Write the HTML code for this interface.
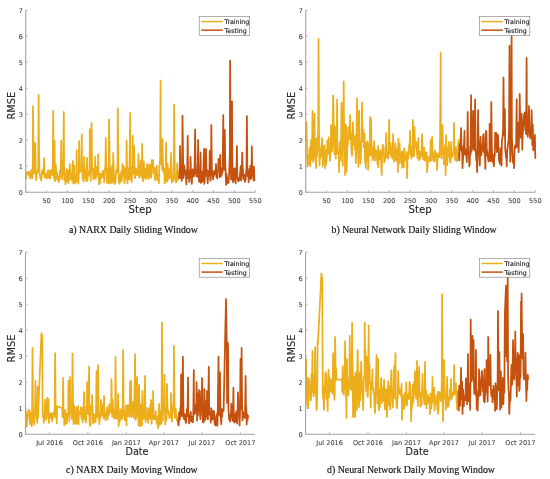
<!DOCTYPE html>
<html><head><meta charset="utf-8"><title>RMSE charts</title>
<style>
html,body{margin:0;padding:0;background:#fff}
svg{display:block;filter:blur(0.35px)}
.t{font-family:"DejaVu Sans","Liberation Sans",sans-serif;font-size:6.55px;fill:#474747;stroke:#474747;stroke-width:0.1px}
.l{font-family:"DejaVu Sans","Liberation Sans",sans-serif;font-size:9.85px;fill:#262626;stroke:#262626;stroke-width:0.12px}
.g{font-family:"DejaVu Sans","Liberation Sans",sans-serif;font-size:6.3px;fill:#222;stroke:#222;stroke-width:0.15px}
.c{font-family:"Liberation Serif","DejaVu Serif",serif;font-size:9.83px;fill:#111;stroke:#111;stroke-width:0.15px}
</style></head><body>
<svg width="550" height="479" viewBox="0 0 550 479">
<rect width="550" height="479" fill="#fff"/>
<polyline points="26.1,178.4 26.5,176.2 27.0,171.8 27.4,173.3 27.8,172.1 28.2,173.1 28.6,174.7 29.0,172.3 29.5,171.6 29.9,176.6 30.3,178.6 30.7,175.4 31.1,173.9 31.5,169.7 32.0,171.3 32.4,178.1 32.8,165.9 33.0,106.0 33.6,163.9 34.0,173.7 34.5,170.3 34.9,172.7 35.2,142.9 35.7,167.6 36.1,180.1 36.6,176.2 37.0,172.4 37.4,173.5 37.8,170.7 38.2,171.3 38.6,94.8 39.1,158.6 39.5,170.5 39.9,175.3 40.3,178.1 40.7,176.9 41.1,180.5 41.6,178.0 42.0,171.7 42.4,169.8 42.8,172.5 43.2,170.0 43.6,174.3 44.1,158.0 44.5,177.2 44.9,175.8 45.3,176.7 45.7,177.2 46.2,173.6 46.6,178.6 47.0,173.5 47.4,177.9 47.8,172.4 48.2,170.1 48.7,173.1 49.1,178.0 49.5,172.0 49.9,170.9 50.3,178.6 50.7,172.9 51.2,169.8 51.6,173.7 52.0,173.8 52.4,175.1 52.8,158.6 53.2,110.9 53.7,168.2 54.1,178.8 54.6,141.1 54.9,181.1 55.3,180.7 55.8,164.7 56.2,170.1 56.6,178.5 57.0,172.7 57.4,179.1 57.8,176.2 58.3,180.4 58.7,182.0 59.1,176.1 59.5,179.7 59.9,170.3 60.3,177.6 60.8,168.8 61.2,140.3 61.6,167.4 62.0,173.8 62.4,179.5 62.8,161.5 63.3,162.6 63.8,112.0 64.1,168.1 64.5,179.5 64.9,173.0 65.4,184.2 65.8,181.1 66.2,177.9 66.6,169.1 67.0,175.1 67.4,181.9 67.9,170.7 68.3,183.0 68.7,179.4 69.1,180.4 69.5,171.9 69.8,164.0 70.4,177.6 70.8,178.8 71.2,173.3 71.6,176.2 72.0,180.9 72.4,169.9 72.9,161.0 73.3,183.6 73.7,172.1 74.1,165.4 74.5,181.7 75.0,183.2 75.4,175.9 75.8,176.4 76.2,182.2 76.6,150.2 77.0,179.3 77.5,178.4 77.9,175.8 78.3,183.7 78.7,178.1 79.1,141.1 79.5,173.1 80.0,170.6 80.4,170.8 80.8,171.0 81.2,166.9 81.8,134.3 82.0,161.3 82.5,177.3 82.9,179.5 83.3,166.8 83.7,181.5 84.1,156.9 84.6,177.8 85.0,169.4 85.4,172.4 85.8,171.9 86.2,180.9 86.6,170.1 87.1,158.0 87.5,180.6 87.9,175.1 88.3,171.6 88.7,172.5 89.1,172.0 89.6,175.0 89.8,129.1 90.4,166.8 90.8,180.9 91.2,161.1 91.6,122.9 92.1,167.9 92.5,170.7 92.9,168.7 93.3,178.7 93.7,176.7 94.2,168.5 94.6,179.0 95.2,156.9 95.4,176.6 95.8,178.2 96.2,166.8 96.7,176.2 97.1,173.7 97.5,170.4 97.9,172.9 98.2,154.1 98.7,176.9 99.2,184.4 99.6,176.5 100.0,183.3 100.4,173.8 100.8,175.7 101.2,178.1 101.7,177.5 102.1,175.5 102.5,171.2 102.9,176.6 103.3,170.9 103.8,173.8 104.2,182.3 104.6,177.3 105.0,169.3 105.4,165.8 105.8,138.0 106.3,164.8 106.7,170.8 107.1,182.9 107.5,168.6 107.9,171.2 108.3,183.3 108.8,168.5 109.0,119.5 109.6,156.4 110.0,183.1 110.4,168.2 110.8,183.4 111.3,172.1 111.7,173.4 112.1,165.4 112.5,182.5 112.9,182.7 113.2,153.0 113.8,172.5 114.2,176.5 114.6,180.7 115.0,184.1 115.4,181.1 115.9,173.6 116.3,170.2 116.7,172.9 117.1,169.3 117.5,163.3 117.8,108.3 118.4,162.2 118.8,181.8 119.2,182.4 119.6,183.7 120.0,180.8 120.4,175.0 120.9,174.8 121.3,171.5 121.7,181.1 122.1,176.3 122.5,164.0 123.0,172.4 123.4,175.8 123.8,166.4 124.2,178.9 124.6,183.4 125.0,168.5 125.5,174.3 125.9,170.3 126.3,178.9 126.6,140.3 127.1,167.6 127.5,183.5 128.0,169.5 128.4,176.6 128.8,168.1 129.2,179.3 129.6,158.3 130.2,113.0 130.5,172.4 130.9,179.3 131.3,178.4 131.7,182.1 132.1,167.3 132.6,165.9 132.8,135.9 133.4,174.3 133.8,169.8 134.1,146.0 134.6,173.2 135.1,178.2 135.5,168.1 135.9,169.3 136.3,173.0 136.7,174.9 137.1,175.3 137.6,168.6 138.0,173.9 138.4,154.1 138.8,164.8 139.2,177.6 139.7,170.3 140.1,174.9 140.5,166.4 140.9,160.3 141.3,171.5 141.7,177.4 142.1,143.9 142.6,172.8 143.0,181.2 143.4,172.1 143.8,161.3 144.2,175.1 144.7,175.0 145.1,178.6 145.5,173.4 145.9,168.3 146.3,178.7 146.7,174.4 147.2,163.9 147.6,174.3 148.0,170.5 148.4,178.9 148.8,166.9 149.0,165.0 149.7,175.9 150.1,176.7 150.5,164.7 150.9,166.3 151.3,177.7 151.7,160.1 152.2,167.3 152.6,165.5 153.0,160.1 153.4,172.9 153.8,168.5 154.3,167.9 154.7,176.5 155.1,180.3 155.5,172.8 155.9,171.2 156.3,168.8 156.8,165.9 157.2,180.0 157.6,174.8 158.0,175.7 158.4,175.5 158.9,183.4 159.3,167.4 159.7,163.6 160.1,159.1 160.6,80.5 160.9,156.4 161.4,164.5 161.8,162.2 162.2,169.7 162.5,139.0 163.0,161.4 163.4,172.0 163.9,168.3 164.3,170.2 164.7,183.1 165.1,178.3 165.5,179.8 166.1,142.9 166.4,171.6 166.8,181.8 167.2,181.5 167.6,163.3 168.0,172.7 168.5,179.3 168.9,170.0 169.3,177.2 169.7,169.1 170.1,177.9 170.5,173.9 171.1,153.0 171.4,165.5 171.8,182.7 172.2,178.3 172.6,176.6 173.0,181.1 173.5,179.7 173.9,161.0 174.1,104.4 174.7,161.4 175.1,179.6 175.5,177.5 176.0,182.5 176.4,178.4 176.8,175.5 177.2,163.2 177.6,180.9 178.1,171.0 178.5,178.4 178.9,176.6" fill="none" stroke="#EDAE1C" stroke-width="1.75" stroke-linejoin="round" stroke-linecap="round"/>
<polyline points="178.9,176.6 179.3,177.8 179.7,168.7 180.1,146.0 180.6,178.1 181.0,177.6 181.4,177.0 181.8,180.9 182.2,163.3 182.5,115.6 183.1,160.6 183.5,178.0 183.9,165.2 184.3,166.0 184.7,169.1 185.1,174.6 185.6,170.5 186.0,177.8 186.4,184.5 186.8,170.6 187.2,173.9 187.7,135.9 188.1,176.4 188.5,178.6 188.9,170.7 189.3,182.0 189.7,176.0 190.2,175.1 190.5,156.9 191.0,174.1 191.4,177.4 191.8,183.9 192.2,176.7 192.7,169.4 193.1,173.0 193.5,176.5 193.9,176.3 194.3,174.2 194.7,163.8 195.1,129.6 195.6,165.9 196.0,170.9 196.4,176.4 196.8,176.3 197.3,176.5 197.7,168.2 198.1,140.0 198.5,166.4 198.9,181.5 199.3,181.5 199.8,173.3 200.2,181.8 200.6,152.5 201.0,183.0 201.4,179.1 201.8,171.5 202.3,181.7 202.7,171.6 203.1,181.0 203.5,165.2 204.1,148.9 204.3,183.9 204.8,178.5 205.2,170.8 205.6,176.1 206.0,148.9 206.4,169.8 206.9,169.5 207.3,175.8 207.7,183.3 208.1,174.9 208.5,171.1 208.9,172.5 209.4,175.8 209.7,151.0 210.2,179.8 210.6,180.7 211.0,173.6 211.3,125.0 211.9,170.6 212.3,170.8 212.7,174.8 213.1,179.4 213.5,174.6 213.9,175.9 214.4,170.8 214.8,173.3 215.2,171.5 215.6,174.4 216.0,164.0 216.5,177.2 216.9,172.1 217.3,178.6 217.7,171.6 218.1,171.1 218.5,159.0 219.0,169.8 219.4,159.0 219.8,177.2 220.2,154.9 220.6,176.0 221.0,168.3 221.5,175.9 221.9,169.6 222.3,173.5 222.7,166.1 223.3,115.1 223.5,159.8 224.0,169.8 224.4,162.0 224.8,129.9 225.2,161.2 225.6,171.5 226.1,184.9 226.5,173.7 226.9,179.7 227.3,183.2 227.7,182.4 228.1,177.7 228.6,182.8 229.0,176.5 229.4,167.4 229.8,153.5 230.1,60.5 230.6,160.0 231.1,179.6 231.5,168.0 232.0,101.3 232.3,159.7 232.7,177.7 233.1,182.4 233.6,179.6 234.0,168.7 234.4,168.4 234.8,180.3 235.2,173.5 235.7,183.4 236.1,168.1 236.5,175.3 236.9,146.0 237.3,177.6 237.7,178.3 238.2,181.1 238.6,181.3 239.0,177.7 239.4,179.9 239.8,175.6 240.2,172.3 240.7,166.1 241.1,180.4 241.5,179.2 241.9,166.7 242.2,152.5 242.7,166.8 243.2,174.8 243.6,177.6 244.0,179.3 244.4,174.7 244.8,181.9 245.3,180.5 245.7,178.6 246.1,172.2 246.5,167.7 246.9,116.1 247.3,167.4 247.8,176.3 248.2,171.6 248.6,182.3 249.0,177.2 249.4,168.9 249.8,176.4 250.3,165.9 250.7,179.1 251.1,177.2 251.5,177.9 251.8,146.5 252.3,172.0 252.8,175.6 253.2,167.0 253.6,180.7 254.0,166.8 254.4,180.3" fill="none" stroke="#C4520E" stroke-width="1.75" stroke-linejoin="round" stroke-linecap="round"/>
<path d="M25.7 10.3V192.3H255.3" fill="none" stroke="#a2a2a8" stroke-width="1.1"/>
<path d="M25.7 192.3h2.2M25.7 166.3h2.2M25.7 140.3h2.2M25.7 114.3h2.2M25.7 88.3h2.2M25.7 62.3h2.2M25.7 36.3h2.2M25.7 10.3h2.2M46.6 192.3v-2.2M67.4 192.3v-2.2M88.3 192.3v-2.2M109.2 192.3v-2.2M130.0 192.3v-2.2M150.9 192.3v-2.2M171.8 192.3v-2.2M192.7 192.3v-2.2M213.5 192.3v-2.2M234.4 192.3v-2.2M255.3 192.3v-2.2" fill="none" stroke="#a2a2a8" stroke-width="0.7"/>
<text x="22.8" y="195.4" text-anchor="end" class="t">0</text>
<text x="22.8" y="169.4" text-anchor="end" class="t">1</text>
<text x="22.8" y="143.4" text-anchor="end" class="t">2</text>
<text x="22.8" y="117.4" text-anchor="end" class="t">3</text>
<text x="22.8" y="91.4" text-anchor="end" class="t">4</text>
<text x="22.8" y="65.4" text-anchor="end" class="t">5</text>
<text x="22.8" y="39.4" text-anchor="end" class="t">6</text>
<text x="22.8" y="13.4" text-anchor="end" class="t">7</text>
<text x="46.6" y="202.9" text-anchor="middle" class="t">50</text>
<text x="67.4" y="202.9" text-anchor="middle" class="t">100</text>
<text x="88.3" y="202.9" text-anchor="middle" class="t">150</text>
<text x="109.2" y="202.9" text-anchor="middle" class="t">200</text>
<text x="130.0" y="202.9" text-anchor="middle" class="t">250</text>
<text x="150.9" y="202.9" text-anchor="middle" class="t">300</text>
<text x="171.8" y="202.9" text-anchor="middle" class="t">350</text>
<text x="192.7" y="202.9" text-anchor="middle" class="t">400</text>
<text x="213.5" y="202.9" text-anchor="middle" class="t">450</text>
<text x="234.4" y="202.9" text-anchor="middle" class="t">500</text>
<text x="255.3" y="202.9" text-anchor="middle" class="t">550</text>
<text x="140.1" y="212.6" text-anchor="middle" class="l" style="font-size:10.2px">Step</text>
<text transform="translate(14.6 105.7) rotate(-90)" text-anchor="middle" class="l">RMSE</text>
<rect x="199.2" y="16.4" width="50.5" height="18.9" fill="#fff" stroke="#7a7a7a" stroke-width="0.6"/>
<path d="M201.3 21.6h21.4" stroke="#EDAE1C" stroke-width="1.5"/>
<path d="M201.3 30.2h21.4" stroke="#C4520E" stroke-width="1.5"/>
<text x="224.5" y="24.2" class="g">Training</text>
<text x="224.5" y="33.0" class="g">Testing</text>
<text x="133.4" y="233.0" text-anchor="middle" class="c">a) NARX Daily Sliding Window</text>
<polyline points="306.1,141.9 306.5,122.1 307.0,153.1 307.4,166.6 307.8,154.7 308.1,161.9 308.6,164.2 309.0,158.1 309.5,148.0 309.9,150.0 310.3,166.4 310.7,156.1 311.1,140.1 311.5,159.6 312.0,155.4 312.5,110.9 312.8,143.0 313.2,162.0 313.6,160.0 314.0,136.5 314.5,113.8 314.9,148.4 315.3,155.6 315.7,159.6 316.1,168.1 316.6,138.6 317.0,156.3 317.4,148.7 317.8,139.2 318.2,129.7 318.5,38.6 319.1,144.3 319.5,165.5 319.9,155.8 320.3,157.9 320.7,155.5 321.1,146.3 321.6,150.4 322.1,138.0 322.4,152.1 322.8,166.5 323.2,161.7 323.6,148.0 324.1,146.2 324.5,145.3 325.1,168.1 325.3,150.1 325.7,165.2 326.2,163.5 326.6,159.9 327.0,152.6 327.4,140.6 327.8,153.6 328.2,153.5 328.7,137.4 329.1,152.1 329.5,147.0 329.9,160.8 330.3,155.6 330.7,146.9 331.1,125.0 331.6,148.8 332.0,151.7 332.4,140.1 332.8,131.6 333.1,95.6 333.7,122.5 334.1,147.5 334.5,154.5 334.9,126.4 335.3,139.7 335.8,158.4 336.2,141.1 336.6,148.4 337.1,99.5 337.4,153.7 337.8,150.5 338.3,153.4 338.7,152.5 339.1,172.0 339.5,144.6 339.9,141.7 340.3,160.3 340.8,144.6 341.2,135.6 341.5,102.6 342.0,131.3 342.4,162.1 342.8,165.9 343.3,121.9 343.7,81.3 344.1,128.7 344.5,123.4 345.1,174.9 345.4,135.8 345.8,124.9 346.2,127.4 346.5,172.0 347.0,158.4 347.4,139.4 347.9,144.4 348.3,127.4 348.7,138.3 349.1,134.6 349.5,139.3 350.1,115.1 350.4,137.2 350.8,132.3 351.2,142.6 351.6,152.2 352.0,155.9 352.4,143.0 352.9,122.4 353.1,130.9 353.7,144.6 354.1,142.1 354.5,135.4 355.0,149.1 355.4,144.1 355.8,163.1 356.2,150.6 356.6,129.8 357.0,98.4 357.5,122.5 357.9,143.4 358.3,166.7 358.7,134.8 359.1,110.7 359.5,141.8 360.0,152.4 360.4,163.7 360.8,159.7 361.2,141.8 361.6,139.2 362.0,102.3 362.5,135.4 362.9,141.3 363.3,129.3 363.7,147.1 364.1,135.9 364.6,133.5 365.0,163.1 365.4,143.7 365.8,168.1 366.2,144.5 366.6,142.5 367.1,160.5 367.5,141.4 367.9,143.9 368.1,169.9 368.7,156.7 369.1,151.3 369.6,154.9 370.1,116.9 370.4,145.2 370.8,155.6 371.1,119.0 371.6,152.9 372.1,146.9 372.5,160.2 372.9,159.9 373.3,154.8 373.7,157.9 374.1,141.1 374.6,149.5 375.0,157.2 375.4,160.7 375.8,150.1 376.2,150.5 376.7,155.8 377.1,153.8 377.5,164.0 378.1,146.0 378.3,167.2 378.7,154.0 379.2,158.7 379.6,159.0 380.0,151.0 380.4,150.2 380.8,157.3 381.2,162.9 381.7,174.9 382.1,154.0 382.5,148.6 382.9,144.7 383.3,148.8 383.8,147.7 384.2,162.7 384.6,158.8 385.0,160.4 385.4,155.7 385.8,157.2 386.1,133.0 386.7,150.6 387.1,156.7 387.5,152.6 387.9,158.7 388.3,158.4 388.8,147.7 389.1,120.0 389.6,153.6 390.0,143.6 390.4,143.0 390.8,147.6 391.3,156.9 391.7,149.2 392.1,147.4 392.5,158.6 393.1,134.1 393.4,149.0 393.8,157.3 394.2,161.7 394.6,157.8 395.0,157.7 395.4,143.1 395.9,157.9 396.3,160.7 396.7,154.4 397.1,154.6 397.5,147.8 397.9,172.0 398.4,138.7 398.8,160.4 399.2,163.4 399.6,143.2 400.0,156.5 400.4,157.1 400.9,157.2 401.3,163.4 401.7,151.7 402.1,167.7 402.5,152.0 403.0,157.6 403.4,152.2 403.8,167.4 404.1,148.1 404.6,155.2 405.0,160.5 405.5,158.8 405.9,156.0 406.3,157.9 406.7,152.2 407.1,178.0 407.5,155.7 408.0,159.3 408.4,154.4 408.8,149.7 409.2,144.7 409.6,148.8 410.0,130.9 410.5,154.8 410.9,153.9 411.3,158.5 411.7,153.4 412.1,146.5 412.6,152.6 412.9,120.0 413.4,156.4 413.8,156.3 414.2,153.8 414.5,127.0 415.1,147.1 415.5,145.8 415.9,144.9 416.3,142.1 416.7,151.1 417.1,154.2 417.6,158.5 418.0,153.3 418.4,138.0 418.8,153.8 419.2,160.3 419.7,156.5 420.1,158.6 420.5,151.6 420.9,151.8 421.3,156.1 421.7,147.6 422.1,134.1 422.6,150.0 423.0,157.6 423.4,159.5 423.8,158.2 424.2,147.9 424.7,160.4 425.1,155.0 425.5,160.5 425.9,152.6 426.3,152.7 426.7,152.5 427.1,172.0 427.6,165.3 428.0,157.7 428.4,158.4 428.8,160.8 429.3,156.7 429.7,157.5 430.1,161.5 430.7,140.0 430.9,150.3 431.3,160.2 431.8,150.6 432.1,136.9 432.6,153.5 433.0,152.5 433.4,160.5 433.8,161.1 434.3,157.9 434.7,161.5 435.1,150.5 435.5,156.5 435.9,152.6 436.3,153.7 436.8,157.6 437.1,169.9 437.6,157.3 438.0,154.2 438.4,154.2 438.9,155.6 439.3,157.1 439.7,150.9 440.1,133.9 440.7,52.9 440.9,136.2 441.4,158.3 441.8,146.2 442.2,155.5 442.5,125.0 443.0,149.1 443.4,151.1 443.9,164.5 444.3,154.4 444.7,157.5 445.1,144.7 445.7,174.9 446.1,135.1 446.4,158.5 446.8,147.2 447.2,165.2 447.6,153.9 448.0,156.4 448.5,150.8 448.9,142.2 449.3,153.2 449.7,157.8 450.1,162.3 450.5,161.9 451.1,142.1 451.4,158.1 451.8,154.9 452.2,153.4 452.6,156.3 453.0,152.8 453.5,152.5 454.0,122.9 454.3,145.6 454.7,151.9 455.1,159.9 455.5,150.5 456.0,147.2 456.4,159.7 456.8,161.0 457.2,160.9 457.6,155.8 458.1,146.0 458.7,140.0 458.9,153.3" fill="none" stroke="#EDAE1C" stroke-width="1.75" stroke-linejoin="round" stroke-linecap="round"/>
<polyline points="458.9,153.3 459.3,160.4 459.7,143.6 460.1,150.4 460.6,140.1 461.1,128.1 461.4,145.2 461.8,150.2 462.2,154.0 462.5,168.1 463.1,156.9 463.5,145.8 463.9,146.8 464.5,130.9 464.7,154.4 465.1,150.1 465.6,154.9 466.0,149.5 466.4,156.3 466.8,162.2 467.2,150.4 467.7,112.0 468.1,150.9 468.5,152.4 468.9,153.9 469.3,166.3 469.7,164.4 470.2,146.4 470.6,154.7 471.1,95.1 471.4,151.5 471.8,149.8 472.2,145.9 472.7,133.3 473.1,110.9 473.5,148.4 473.9,135.9 474.3,150.3 474.7,137.1 475.1,99.5 475.6,146.5 476.0,155.7 476.4,161.0 476.8,160.6 477.1,172.0 477.7,148.1 478.1,110.1 478.5,146.1 478.9,141.6 479.3,154.9 479.8,165.6 480.2,151.3 480.5,136.9 481.0,148.7 481.4,155.2 481.8,148.6 482.3,150.8 482.7,146.0 483.1,135.6 483.7,134.1 483.9,152.3 484.3,145.1 484.8,151.5 485.4,168.9 485.6,143.9 486.0,130.9 486.4,132.1 486.9,155.5 487.3,150.9 487.7,154.7 488.1,158.6 488.5,161.5 488.9,160.6 489.4,158.7 489.6,123.9 490.2,152.4 490.6,161.2 491.0,142.4 491.3,102.1 491.9,149.6 492.3,160.8 492.7,161.4 493.1,155.1 493.5,164.3 493.9,166.3 494.4,154.3 494.8,156.2 495.2,132.6 495.6,138.1 496.0,146.9 496.5,133.0 496.9,152.0 497.3,148.1 497.7,149.6 498.0,135.1 498.5,149.2 499.0,160.9 499.4,154.3 499.8,163.8 500.2,160.1 500.6,148.1 501.0,149.8 501.5,165.6 501.9,140.9 502.3,138.4 502.7,135.6 503.1,128.8 503.5,77.4 504.0,135.4 504.4,130.6 504.9,109.1 505.2,149.5 505.6,152.3 506.1,158.4 506.5,150.8 506.7,166.3 507.3,149.8 507.7,147.1 508.1,143.7 508.6,140.6 509.0,128.6 509.5,45.7 509.8,125.0 510.2,161.6 510.6,154.3 511.1,127.4 511.6,33.7 511.9,137.1 512.3,147.3 512.7,158.8 513.1,163.0 513.6,155.9 514.0,168.1 514.4,154.8 514.8,147.1 515.2,145.4 515.7,147.9 516.1,145.3 516.7,99.2 516.9,146.9 517.3,145.9 517.7,145.4 518.2,122.3 518.6,152.1 519.0,138.6 519.4,128.4 519.7,94.0 520.2,125.6 520.7,137.5 521.1,124.4 521.5,113.6 521.9,120.0 522.3,149.7 522.7,134.9 523.2,126.3 523.6,122.7 524.0,114.3 524.4,121.5 524.8,112.4 525.3,130.3 525.7,126.7 526.1,134.1 526.6,57.9 526.9,116.1 527.3,132.8 527.8,136.8 528.2,126.1 528.6,119.7 529.0,106.0 529.4,130.4 529.8,133.8 530.3,138.4 530.7,131.3 531.1,130.2 531.6,110.1 531.9,123.9 532.3,145.0 532.8,124.5 533.2,150.3 533.6,146.5 534.0,142.1 534.4,143.5 534.9,134.9 535.3,158.0" fill="none" stroke="#C4520E" stroke-width="1.75" stroke-linejoin="round" stroke-linecap="round"/>
<path d="M305.7 10.3V192.3H535.3" fill="none" stroke="#a2a2a8" stroke-width="1.1"/>
<path d="M305.7 192.3h2.2M305.7 166.3h2.2M305.7 140.3h2.2M305.7 114.3h2.2M305.7 88.3h2.2M305.7 62.3h2.2M305.7 36.3h2.2M305.7 10.3h2.2M326.6 192.3v-2.2M347.4 192.3v-2.2M368.3 192.3v-2.2M389.2 192.3v-2.2M410.0 192.3v-2.2M430.9 192.3v-2.2M451.8 192.3v-2.2M472.7 192.3v-2.2M493.5 192.3v-2.2M514.4 192.3v-2.2M535.3 192.3v-2.2" fill="none" stroke="#a2a2a8" stroke-width="0.7"/>
<text x="302.8" y="195.4" text-anchor="end" class="t">0</text>
<text x="302.8" y="169.4" text-anchor="end" class="t">1</text>
<text x="302.8" y="143.4" text-anchor="end" class="t">2</text>
<text x="302.8" y="117.4" text-anchor="end" class="t">3</text>
<text x="302.8" y="91.4" text-anchor="end" class="t">4</text>
<text x="302.8" y="65.4" text-anchor="end" class="t">5</text>
<text x="302.8" y="39.4" text-anchor="end" class="t">6</text>
<text x="302.8" y="13.4" text-anchor="end" class="t">7</text>
<text x="326.6" y="202.9" text-anchor="middle" class="t">50</text>
<text x="347.4" y="202.9" text-anchor="middle" class="t">100</text>
<text x="368.3" y="202.9" text-anchor="middle" class="t">150</text>
<text x="389.2" y="202.9" text-anchor="middle" class="t">200</text>
<text x="410.0" y="202.9" text-anchor="middle" class="t">250</text>
<text x="430.9" y="202.9" text-anchor="middle" class="t">300</text>
<text x="451.8" y="202.9" text-anchor="middle" class="t">350</text>
<text x="472.7" y="202.9" text-anchor="middle" class="t">400</text>
<text x="493.5" y="202.9" text-anchor="middle" class="t">450</text>
<text x="514.4" y="202.9" text-anchor="middle" class="t">500</text>
<text x="535.3" y="202.9" text-anchor="middle" class="t">550</text>
<text x="420.1" y="212.6" text-anchor="middle" class="l" style="font-size:10.2px">Step</text>
<text transform="translate(294.6 105.7) rotate(-90)" text-anchor="middle" class="l">RMSE</text>
<rect x="479.3" y="16.4" width="50.5" height="18.9" fill="#fff" stroke="#7a7a7a" stroke-width="0.6"/>
<path d="M481.4 21.6h21.4" stroke="#EDAE1C" stroke-width="1.5"/>
<path d="M481.4 30.2h21.4" stroke="#C4520E" stroke-width="1.5"/>
<text x="504.6" y="24.2" class="g">Training</text>
<text x="504.6" y="33.0" class="g">Testing</text>
<text x="414.1" y="233.0" text-anchor="middle" class="c">b) Neural Network Daily Sliding Window</text>
<polyline points="25.9,411.1 26.3,414.8 26.8,426.5 27.2,419.7 27.6,415.8 28.0,416.0 28.4,410.2 28.8,412.5 29.3,410.1 29.7,420.4 30.1,424.4 30.5,423.5 30.9,422.5 31.3,412.3 31.8,426.1 32.2,400.9 32.5,347.9 33.0,408.4 33.4,422.2 33.8,418.6 34.3,425.0 34.7,416.3 35.1,405.5 35.5,380.9 35.9,414.1 36.4,412.9 36.8,418.3 37.2,422.8 37.7,386.9 38.0,417.8 38.4,408.2 41.4,333.2 42.3,336.2 42.6,408.2 43.0,417.3 43.4,417.3 43.9,422.8 44.3,417.7 44.7,414.0 45.1,399.9 45.5,418.4 46.0,415.0 46.4,419.6 46.8,416.6 47.1,397.8 47.6,413.7 48.0,405.3 48.5,399.1 48.9,422.9 49.3,414.8 49.7,418.3 50.1,413.5 50.5,414.4 51.0,414.5 51.4,418.8 51.8,413.1 52.2,421.5 52.6,418.5 53.0,414.4 53.5,415.7 53.9,412.5 54.3,416.9 54.7,406.7 55.1,353.1 55.6,407.6 56.0,416.4 56.4,418.3 56.8,423.5 57.1,406.4 62.1,408.2 62.2,409.2 62.6,417.2 63.1,378.0 63.5,409.6 63.9,412.5 64.3,425.1 64.7,411.9 65.2,410.1 65.6,413.5 66.0,423.8 66.4,423.4 66.8,423.2 67.2,413.7 67.7,415.6 68.1,414.9 68.5,380.9 68.9,412.9 69.3,421.1 69.7,406.6 70.1,377.0 70.6,412.8 71.0,413.5 71.4,410.8 71.8,418.8 72.2,404.8 72.5,353.6 73.1,410.1 73.5,424.0 73.9,423.1 74.3,405.9 74.8,421.6 75.2,417.8 75.6,424.2 76.0,422.0 76.4,407.3 76.8,419.8 77.3,423.1 77.7,409.5 78.1,406.1 78.5,424.4 78.9,412.6 79.3,414.7 79.8,414.2 80.2,412.0 80.6,410.1 81.0,407.1 81.4,418.1 81.8,418.9 82.3,410.2 82.7,422.3 83.1,407.4 83.5,409.4 84.1,392.1 84.4,418.9 84.8,419.3 85.2,413.5 85.6,417.0 86.0,422.7 86.4,406.3 86.9,406.3 87.1,382.2 87.7,406.6 88.1,414.2 88.5,402.3 89.1,366.6 89.4,413.9 89.8,425.8 90.2,416.8 90.6,425.6 91.0,405.7 91.4,412.3 91.9,410.5 92.1,395.2 92.7,413.7 93.1,423.3 93.5,415.1 94.0,414.2 94.4,422.5 94.8,419.2 95.2,414.6 95.6,421.7 96.0,413.6 96.5,371.0 96.9,403.0 97.3,417.3 97.7,410.9 98.1,365.0 98.5,405.8 99.0,418.4 99.4,424.3 99.8,417.8 100.2,413.6 100.6,417.6 101.0,399.9 101.5,410.5 101.9,414.9 102.3,408.9 102.7,415.5 103.1,403.9 103.6,418.3 104.1,396.0 104.4,412.2 104.8,415.4 105.2,416.4 105.6,420.4 106.1,413.3 106.5,412.3 106.9,410.1 107.3,406.9 107.7,419.3 108.1,410.8 108.6,415.8 109.0,414.4 109.4,404.0 109.8,412.2 110.2,411.0 110.6,412.3 111.1,407.8 111.5,379.1 111.9,405.9 112.3,416.7 112.7,399.7 113.2,415.0 113.6,409.1 114.0,418.0 114.4,413.4 114.8,418.5 115.2,414.5 115.5,357.0 116.1,416.6 116.5,418.7 116.9,414.5 117.3,418.4 117.7,414.9 118.1,393.9 118.6,426.2 119.0,411.9 119.4,414.0 119.8,421.7 120.2,409.2 120.7,409.6 121.1,417.4 121.5,418.4 121.9,419.2 122.3,414.1 122.8,403.0 123.1,350.0 123.6,404.2 124.0,416.4 124.4,416.2 124.8,420.4 125.3,410.7 125.7,417.4 126.1,405.4 126.5,425.4 126.9,410.7 127.3,413.3 127.8,405.2 128.2,410.7 128.6,416.1 129.0,411.4 129.4,416.8 130.1,382.2 130.3,412.6 130.7,403.6 131.1,380.9 131.5,417.2 131.9,416.2 132.4,411.7 132.8,411.8 133.2,401.9 133.6,408.3 134.0,418.0 134.4,401.5 135.1,354.1 135.3,402.5 135.7,420.0 136.1,417.1 136.5,406.7 137.1,377.0 137.4,398.9 137.8,416.4 138.2,414.8 138.6,425.5 139.0,384.8 139.5,406.9 139.9,410.0 140.3,426.2 140.7,404.4 141.1,425.3 141.5,412.7 142.0,425.1 142.4,391.0 142.8,417.4 143.2,417.4 143.6,418.9 144.0,417.1 144.5,405.5 145.0,376.0 145.3,412.0 145.7,421.9 146.1,413.2 146.5,415.8 147.0,419.0 147.4,407.9 147.8,408.7 148.2,422.8 148.6,415.4 149.1,409.3 149.5,415.8 149.9,418.6 150.3,404.8 150.7,411.5 151.1,400.0 151.6,423.8 152.0,414.6 152.4,412.8 152.8,417.3 153.1,391.0 153.6,418.8 154.1,416.5 154.5,417.0 154.9,419.5 155.3,418.3 155.7,411.0 156.1,418.5 156.6,417.2 157.0,423.9 157.4,416.3 157.8,417.8 158.0,428.0 158.7,425.6 159.1,404.0 159.5,422.5 159.9,411.3 160.3,424.4 160.7,420.5 161.2,423.6 161.6,401.2 162.0,322.4 162.4,397.2 162.8,420.9 163.2,405.0 163.7,404.9 164.1,410.8 164.5,374.9 164.9,408.6 165.3,424.5 165.7,415.8 166.2,420.6 166.6,416.6 167.0,384.0 167.4,406.2 167.8,412.8 168.3,410.8 168.7,411.3 169.1,416.4 169.5,418.0 169.9,417.9 170.3,415.8 170.8,417.0 171.0,393.1 171.6,406.2 172.0,421.7 172.4,414.2 172.8,411.1 173.3,407.5 173.7,403.5 173.9,345.8 174.5,401.5 174.9,418.1 175.3,414.6 175.8,408.6 176.2,414.2 176.6,417.5 177.0,420.6 177.4,417.4 177.9,424.9 178.3,419.7" fill="none" stroke="#EDAE1C" stroke-width="1.75" stroke-linejoin="round" stroke-linecap="round"/>
<polyline points="178.3,419.7 178.7,425.5 179.1,412.3 179.5,419.3 179.9,419.5 180.4,407.7 180.8,415.2 181.1,374.4 181.6,408.8 182.0,416.3 182.4,404.8 182.9,356.7 183.3,403.5 183.7,418.1 184.1,418.7 184.5,419.6 184.9,414.4 185.4,414.9 185.8,422.9 186.2,421.8 186.6,412.5 187.0,408.9 187.5,416.2 188.0,377.5 188.3,413.0 188.7,415.0 189.1,423.5 189.5,418.6 190.0,414.9 190.4,418.6 190.8,411.8 191.2,421.6 191.6,419.2 192.0,417.0 192.5,419.2 192.9,422.4 193.3,413.5 193.8,370.2 194.1,413.2 194.5,414.1 195.0,411.8 195.4,405.1 195.8,409.0 196.2,412.3 196.6,382.2 197.1,420.7 197.5,400.1 197.9,415.5 198.3,393.5 198.7,406.0 199.1,390.0 199.6,407.6 200.0,414.2 200.4,419.1 200.8,413.1 201.2,391.0 201.6,405.8 202.1,378.0 202.5,407.6 202.9,422.2 203.3,414.3 203.7,422.5 204.1,417.1 204.4,389.0 205.0,419.3 205.4,419.8 205.8,401.5 206.2,412.6 206.7,416.9 207.1,391.0 207.5,409.4 207.9,419.2 208.3,399.8 208.8,366.9 209.2,413.4 209.6,414.8 210.0,415.3 210.4,413.0 210.8,422.6 211.2,408.1 211.7,412.1 212.1,414.6 212.5,419.7 212.9,414.9 213.3,411.1 213.7,410.9 214.2,412.7 214.6,424.3 215.0,419.2 215.4,424.2 215.8,425.7 216.3,415.9 216.7,425.1 217.1,413.4 217.5,425.5 217.9,401.8 218.5,356.5 218.8,411.2 219.2,415.5 219.6,412.0 220.0,372.3 220.4,408.7 220.8,417.6 221.3,424.2 221.7,408.9 222.1,416.6 222.5,411.2 222.9,410.0 223.6,410.8 226.0,299.0 226.7,340.6 227.1,403.0 227.5,393.5 228.0,343.2 228.4,408.2 228.8,413.8 229.2,419.9 229.6,414.6 230.0,421.5 230.4,420.8 230.9,417.3 231.3,403.9 231.7,412.7 232.1,416.3 232.5,413.8 232.9,420.9 233.4,387.7 233.8,416.5 234.2,422.6 234.6,414.4 235.0,414.3 235.5,421.7 235.9,413.7 236.3,411.5 236.7,414.3 237.1,423.6 237.5,417.6 238.0,392.3 238.4,403.5 238.8,412.1 239.2,407.3 239.6,425.4 240.0,413.5 240.5,358.8 240.9,409.0 241.3,406.3 241.6,347.9 242.1,404.6 242.5,420.5 243.0,411.7 243.4,415.8 243.8,417.6 244.2,415.1 244.6,417.9 245.1,411.5 245.6,376.0 245.9,405.1 246.3,408.3 246.7,424.5 247.1,414.2 247.6,419.8 248.0,415.6" fill="none" stroke="#C4520E" stroke-width="1.75" stroke-linejoin="round" stroke-linecap="round"/>
<path d="M25.5 252.2V434.2H255.1" fill="none" stroke="#a2a2a8" stroke-width="1.1"/>
<path d="M25.5 434.2h2.2M25.5 408.2h2.2M25.5 382.2h2.2M25.5 356.2h2.2M25.5 330.2h2.2M25.5 304.2h2.2M25.5 278.2h2.2M25.5 252.2h2.2M49.5 434.2v-2.2M87.9 434.2v-2.2M126.3 434.2v-2.2M163.9 434.2v-2.2M201.9 434.2v-2.2M240.3 434.2v-2.2" fill="none" stroke="#a2a2a8" stroke-width="0.7"/>
<text x="22.6" y="437.3" text-anchor="end" class="t">0</text>
<text x="22.6" y="411.3" text-anchor="end" class="t">1</text>
<text x="22.6" y="385.3" text-anchor="end" class="t">2</text>
<text x="22.6" y="359.3" text-anchor="end" class="t">3</text>
<text x="22.6" y="333.3" text-anchor="end" class="t">4</text>
<text x="22.6" y="307.3" text-anchor="end" class="t">5</text>
<text x="22.6" y="281.3" text-anchor="end" class="t">6</text>
<text x="22.6" y="255.3" text-anchor="end" class="t">7</text>
<text x="49.5" y="444.8" text-anchor="middle" class="t">Jul 2016</text>
<text x="87.9" y="444.8" text-anchor="middle" class="t">Oct 2016</text>
<text x="126.3" y="444.8" text-anchor="middle" class="t">Jan 2017</text>
<text x="163.9" y="444.8" text-anchor="middle" class="t">Apr 2017</text>
<text x="201.9" y="444.8" text-anchor="middle" class="t">Jul 2017</text>
<text x="240.3" y="444.8" text-anchor="middle" class="t">Oct 2017</text>
<text x="137.0" y="454.5" text-anchor="middle" class="l" style="font-size:9.7px">Date</text>
<text transform="translate(14.6 348.5) rotate(-90)" text-anchor="middle" class="l">RMSE</text>
<rect x="199.2" y="258.3" width="50.5" height="18.9" fill="#fff" stroke="#7a7a7a" stroke-width="0.6"/>
<path d="M201.3 263.5h21.4" stroke="#EDAE1C" stroke-width="1.5"/>
<path d="M201.3 272.1h21.4" stroke="#C4520E" stroke-width="1.5"/>
<text x="224.5" y="266.1" class="g">Training</text>
<text x="224.5" y="274.9" class="g">Testing</text>
<text x="131.9" y="472.9" text-anchor="middle" class="c">c) NARX Daily Moving Window</text>
<polyline points="306.1,358.8 306.4,386.2 306.9,399.5 307.3,406.0 307.7,378.4 308.1,408.2 308.5,402.5 308.9,378.4 309.4,386.9 309.8,392.0 310.2,398.3 310.6,393.4 311.0,400.5 311.4,374.1 311.9,391.8 312.5,351.0 312.7,378.6 313.1,374.6 313.5,396.3 313.9,391.9 314.4,394.2 314.8,383.5 315.1,347.1 315.6,380.1 316.0,389.9 316.5,410.0 316.9,407.1 317.3,389.8 317.6,340.1 317.9,344.5 321.4,273.5 322.3,279.5 322.7,392.6 323.1,398.4 323.5,400.1 324.0,410.0 324.4,385.8 324.8,393.3 325.2,374.7 325.6,372.1 326.1,374.9 326.5,399.0 326.9,392.3 327.3,389.8 327.7,410.8 328.1,378.8 328.6,369.7 329.0,397.3 329.4,377.4 329.8,391.0 330.2,381.7 330.6,385.0 331.1,379.6 331.5,391.9 331.9,383.0 332.3,393.7 332.7,379.3 333.1,353.1 333.6,393.3 334.0,391.0 334.4,399.8 334.8,394.5 335.1,337.0 335.7,380.4 336.1,368.0 336.5,379.6 341.9,379.6 342.3,391.9 342.7,366.1 343.2,382.0 343.6,394.7 344.0,378.9 344.4,389.2 344.8,365.9 345.1,341.1 345.7,396.2 346.1,382.5 346.5,418.1 346.9,359.1 347.3,387.4 347.8,394.9 348.2,387.4 348.6,395.0 349.0,379.6 349.4,377.2 349.7,335.9 350.3,376.0 350.7,388.2 351.1,389.2 351.5,390.1 352.1,322.9 352.3,354.5 352.8,373.8 353.0,417.0 353.6,405.9 354.0,376.9 354.4,396.7 355.1,417.0 355.3,373.8 355.7,373.6 356.1,372.4 356.5,391.2 356.9,410.1 357.4,361.3 357.7,350.0 358.2,383.1 358.6,395.0 359.0,406.9 359.4,388.7 359.9,372.3 360.3,400.7 360.7,394.3 361.1,361.9 361.5,376.9 361.9,380.0 362.4,390.8 362.8,394.0 363.2,410.1 363.6,385.7 364.0,376.7 364.5,377.1 364.7,322.7 365.3,369.7 365.5,350.0 366.1,390.9 366.5,367.6 367.0,356.9 367.4,395.6 367.8,397.1 368.2,382.2 368.7,325.5 369.0,369.8 369.5,364.3 369.9,383.4 370.3,382.1 370.7,407.5 371.1,382.5 371.5,385.3 372.0,382.9 372.4,369.5 372.8,389.4 373.2,388.0 373.6,392.3 374.1,394.1 374.5,405.1 375.1,413.1 375.3,400.4 375.7,383.4 376.1,375.6 376.5,354.9 377.0,382.4 377.4,403.2 377.8,397.4 378.1,358.8 378.6,405.1 379.1,410.3 379.5,389.6 379.9,406.9 380.3,392.0 380.7,394.8 381.1,378.0 381.6,390.1 382.0,403.0 382.4,399.0 382.8,388.0 383.2,395.9 383.7,401.0 384.1,379.5 384.5,393.2 384.9,409.4 385.3,409.4 385.7,402.2 386.2,389.0 386.6,402.4 387.0,417.0 387.4,394.0 387.8,400.3 388.2,381.1 388.7,392.8 389.1,405.8 389.5,386.3 389.9,396.4 390.3,409.3 390.7,393.3 391.2,372.9 391.5,370.0 392.0,394.0 392.4,396.8 392.8,407.4 393.3,394.9 393.7,396.1 394.1,366.1 394.5,397.9 394.9,373.1 395.5,353.1 395.8,397.2 396.2,400.8 396.6,406.3 397.0,408.1 397.4,399.8 397.8,397.5 398.1,371.0 398.7,388.5 399.1,388.1 399.5,394.2 399.9,389.9 400.3,390.8 400.8,388.9 401.2,396.8 401.6,383.9 402.0,419.9 402.4,396.6 402.9,395.2 403.3,399.5 403.7,396.7 404.1,409.0 404.5,406.2 404.9,393.2 405.4,404.3 405.8,400.2 406.2,382.3 406.6,399.1 407.0,405.3 407.4,394.4 407.9,396.2 408.3,399.4 408.7,393.7 409.1,398.5 409.5,381.8 410.0,384.0 410.4,395.4 410.8,398.7 411.1,421.2 411.6,399.5 412.0,408.0 412.5,389.9 412.9,384.7 413.3,402.9 413.7,394.4 414.1,382.1 414.5,393.6 415.0,371.0 415.4,393.9 415.8,395.3 416.2,398.7 416.6,391.3 417.0,360.9 417.5,394.2 417.9,406.1 418.3,388.4 418.7,388.9 419.1,366.9 419.6,395.2 420.0,392.5 420.4,406.8 420.8,395.0 421.2,401.2 421.6,404.9 422.1,388.8 422.5,373.9 422.9,394.2 423.3,391.4 423.7,393.0 424.1,401.8 424.6,404.2 425.0,361.9 425.4,396.6 425.8,404.6 426.2,390.8 426.6,408.4 427.1,394.6 427.5,402.7 427.9,394.7 428.3,397.2 428.7,403.2 429.2,402.1 429.6,398.0 430.0,413.9 430.4,393.3 430.8,394.2 431.2,408.5 431.7,404.1 432.1,402.6 432.5,377.0 432.9,401.5 433.3,390.8 433.7,399.5 434.2,387.9 434.6,410.5 435.0,404.6 435.4,399.7 435.8,399.9 436.2,399.7 436.7,395.6 437.1,404.0 437.5,409.9 437.9,391.8 438.1,413.9 438.8,400.7 439.2,392.0 439.6,396.4 440.0,392.6 440.4,395.0 440.8,401.1 441.3,398.4 441.7,383.3 442.1,294.1 442.5,374.7 443.0,421.2 443.3,393.1 443.8,381.0 444.1,360.1 444.6,391.7 445.0,398.9 445.4,394.9 445.8,410.0 446.3,397.7 446.7,393.5 447.1,377.0 447.5,395.8 447.9,407.2 448.4,397.4 448.8,404.9 449.2,399.8 449.6,398.4 450.0,389.1 450.4,393.9 451.1,379.1 451.3,399.8 451.7,393.5 452.1,397.6 452.5,392.5 452.9,395.8 453.4,393.2 453.8,390.5 454.1,365.0 454.6,394.2 455.0,393.4 455.4,386.3 455.9,383.6 456.3,394.1 456.7,402.8 457.1,409.5 457.5,406.7 458.0,406.2 458.4,390.9" fill="none" stroke="#EDAE1C" stroke-width="1.75" stroke-linejoin="round" stroke-linecap="round"/>
<polyline points="458.4,390.9 458.8,410.6 459.2,385.6 459.6,393.6 460.0,406.0 460.5,392.9 461.0,367.9 461.3,389.1 461.7,398.7 462.1,381.7 462.5,413.9 463.0,389.2 463.4,393.1 463.8,406.3 464.2,396.8 464.6,396.5 465.0,399.6 465.5,400.3 465.9,378.4 466.3,380.2 466.7,383.3 467.1,404.2 467.6,380.3 468.0,354.1 468.4,401.2 468.8,397.2 469.2,394.9 469.6,383.3 470.1,409.8 470.5,380.0 470.7,319.5 471.3,377.4 471.7,381.3 472.1,374.3 472.5,335.9 473.0,378.6 473.6,340.1 473.8,377.7 474.2,393.5 474.6,383.5 475.1,391.9 475.5,394.9 475.9,350.0 476.3,385.0 476.7,409.0 477.2,402.7 477.6,410.6 478.0,399.9 478.4,390.1 478.8,396.5 479.0,369.2 479.7,383.1 480.1,388.0 480.5,395.1 480.9,387.7 481.3,382.6 481.7,374.6 482.0,371.0 482.6,380.9 483.0,391.2 483.4,384.1 483.8,401.2 484.5,369.2 484.7,402.3 485.1,393.3 485.5,392.7 485.9,385.1 486.3,391.3 486.6,360.1 487.2,385.2 487.6,401.6 488.0,383.7 488.2,337.0 488.8,383.4 489.3,380.2 489.7,385.3 490.1,379.0 490.4,354.9 490.9,387.8 491.3,396.0 491.8,390.1 492.2,395.6 492.6,402.4 493.0,399.2 493.4,385.8 493.8,394.7 494.3,389.3 494.7,389.2 495.1,410.8 495.5,383.2 495.9,401.5 496.4,396.2 496.8,409.0 497.2,388.0 497.6,383.9 498.0,311.0 498.4,383.9 498.9,390.5 499.4,352.0 499.7,382.1 500.1,409.7 500.5,407.0 500.9,371.4 501.4,407.1 501.8,395.3 502.2,404.5 502.6,383.9 503.0,377.8 503.4,404.1 503.9,384.7 504.4,392.6 504.8,314.6 506.0,285.7 506.4,356.2 506.8,304.2 507.2,361.4 507.7,275.1 508.1,377.0 508.5,390.2 508.9,391.7 509.3,413.9 509.7,402.7 510.1,397.1 510.5,400.5 511.0,380.9 511.4,364.9 511.8,385.4 512.2,382.8 512.6,373.4 513.0,340.1 513.5,370.0 513.9,376.2 514.3,379.7 514.7,369.5 515.3,331.5 515.6,371.0 516.0,358.4 516.4,373.5 516.8,396.5 517.2,367.8 517.6,352.8 518.1,385.3 518.5,366.5 518.9,354.9 519.3,390.9 519.7,387.7 520.1,363.4 520.6,377.5 521.0,301.6 521.4,343.2 521.6,293.5 522.2,352.9 522.6,358.7 523.1,334.1 523.5,372.3 523.9,379.5 524.3,376.3 524.7,372.0 525.2,378.5 525.4,352.6 526.0,384.3 526.4,401.0 526.8,383.7 527.2,389.8 527.7,374.7 528.1,379.2" fill="none" stroke="#C4520E" stroke-width="1.75" stroke-linejoin="round" stroke-linecap="round"/>
<path d="M305.6 252.2V434.2H535.2" fill="none" stroke="#a2a2a8" stroke-width="1.1"/>
<path d="M305.6 434.2h2.2M305.6 408.2h2.2M305.6 382.2h2.2M305.6 356.2h2.2M305.6 330.2h2.2M305.6 304.2h2.2M305.6 278.2h2.2M305.6 252.2h2.2M329.6 434.2v-2.2M368.0 434.2v-2.2M406.4 434.2v-2.2M444.0 434.2v-2.2M482.0 434.2v-2.2M520.4 434.2v-2.2" fill="none" stroke="#a2a2a8" stroke-width="0.7"/>
<text x="302.7" y="437.3" text-anchor="end" class="t">0</text>
<text x="302.7" y="411.3" text-anchor="end" class="t">1</text>
<text x="302.7" y="385.3" text-anchor="end" class="t">2</text>
<text x="302.7" y="359.3" text-anchor="end" class="t">3</text>
<text x="302.7" y="333.3" text-anchor="end" class="t">4</text>
<text x="302.7" y="307.3" text-anchor="end" class="t">5</text>
<text x="302.7" y="281.3" text-anchor="end" class="t">6</text>
<text x="302.7" y="255.3" text-anchor="end" class="t">7</text>
<text x="329.6" y="444.8" text-anchor="middle" class="t">Jul 2016</text>
<text x="368.0" y="444.8" text-anchor="middle" class="t">Oct 2016</text>
<text x="406.4" y="444.8" text-anchor="middle" class="t">Jan 2017</text>
<text x="444.0" y="444.8" text-anchor="middle" class="t">Apr 2017</text>
<text x="482.0" y="444.8" text-anchor="middle" class="t">Jul 2017</text>
<text x="520.4" y="444.8" text-anchor="middle" class="t">Oct 2017</text>
<text x="417.1" y="454.5" text-anchor="middle" class="l" style="font-size:9.7px">Date</text>
<text transform="translate(294.6 348.5) rotate(-90)" text-anchor="middle" class="l">RMSE</text>
<rect x="479.3" y="258.3" width="50.5" height="18.9" fill="#fff" stroke="#7a7a7a" stroke-width="0.6"/>
<path d="M481.4 263.5h21.4" stroke="#EDAE1C" stroke-width="1.5"/>
<path d="M481.4 272.1h21.4" stroke="#C4520E" stroke-width="1.5"/>
<text x="504.6" y="266.1" class="g">Training</text>
<text x="504.6" y="274.9" class="g">Testing</text>
<text x="411.0" y="472.9" text-anchor="middle" class="c">d) Neural Network Daily Moving Window</text>
</svg>
</body></html>
